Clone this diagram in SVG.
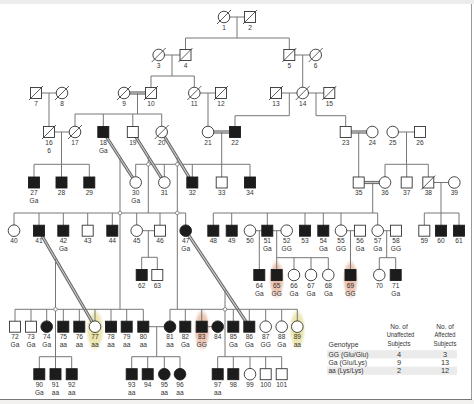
<svg xmlns="http://www.w3.org/2000/svg" width="474" height="404" viewBox="0 0 474 404">
<style>
.s{fill:#fff;stroke:#333;stroke-width:0.9}
.f{fill:#1c1c1c;stroke:#1c1c1c;stroke-width:0.9}
.d{stroke:#333;stroke-width:0.8}
.l{font-family:"Liberation Sans Narrow","Liberation Sans",Arial,sans-serif;font-size:6.6px;fill:#333;text-anchor:middle}
.c{fill:none;stroke:#777;stroke-width:1}
.dbo{fill:none;stroke:#666;stroke-width:3.2}
.dbi{fill:none;stroke:#c8c8c8;stroke-width:1.2}
.hop{fill:#fff;stroke:#777;stroke-width:0.8}
.lg{font-family:"Liberation Sans",Arial,sans-serif;font-size:7.4px;fill:#333}
.lc{text-anchor:middle}
</style>
<defs>
<radialGradient id="gp"><stop offset="0" stop-color="#e4ad95" stop-opacity="0.95"/><stop offset="0.7" stop-color="#e9bfaa" stop-opacity="0.8"/><stop offset="1" stop-color="#f0d5c8" stop-opacity="0"/></radialGradient>
<radialGradient id="gy"><stop offset="0" stop-color="#e4dc8e" stop-opacity="0.95"/><stop offset="0.7" stop-color="#e9e3a6" stop-opacity="0.8"/><stop offset="1" stop-color="#f2eec8" stop-opacity="0"/></radialGradient>
</defs>
<rect x="0" y="0" width="474" height="404" fill="#fff"/>
<rect x="0" y="0" width="474" height="4" fill="#ececec"/>
<rect x="0" y="400" width="474" height="4" fill="#f3f1ef"/>
<line x1="471.5" y1="4" x2="471.5" y2="400" stroke="#999" stroke-width="1"/>
<line x1="0" y1="399.5" x2="472" y2="399.5" stroke="#777" stroke-width="1"/>

<g id="highlights">
<ellipse cx="276.7" cy="279.5" rx="8" ry="20.5" fill="url(#gp)"/>
<ellipse cx="350.5" cy="279.5" rx="8.2" ry="20.5" fill="url(#gp)"/>
<ellipse cx="95" cy="330" rx="9.5" ry="22" fill="url(#gy)"/>
<ellipse cx="202" cy="330" rx="8.5" ry="22" fill="url(#gp)"/>
<ellipse cx="297.3" cy="329.5" rx="8.5" ry="21.5" fill="url(#gy)"/>
</g>

<g id="connectors">
<path class="c" d="M224,17H250M237,17V38M185.5,38H289.3M185.5,38V55M289.3,38V55"/>
<path class="c" d="M158.7,55H185.5M172,55V76M151,76H194.3M151,76V93M194.3,76V93"/>
<path class="c" d="M289.3,55H315.7M302.7,55V93"/>
<path class="c" d="M36,93H62M49,93V132"/>
<path class="dbo" d="M124,93H151"/><path class="dbi" d="M124,93H151"/>
<path class="c" d="M137.5,93V114M75,114H161.7M75,114V132M103.3,114V132M132.8,114V132M161.7,114V132"/>
<path class="c" d="M194.3,93H221M208,93V132"/>
<path class="c" d="M276,93H329.3M289.3,93V115.7H235V132M316,93V115.7H345.7V132"/>
<path class="c" d="M49,132H75M61.5,132V164.3M34,164.3H89.3M34,164.3V182.5M61.5,164.3V182.5M89.3,164.3V182.5"/>
<path class="dbo" d="M208,132H235"/><path class="dbi" d="M208,132H235"/>
<path class="c" d="M221.7,132V182.5M135.7,164.3H250M135.7,164.3V182.5M164.3,164.3V182.5M192.3,164.3V182.5M250,164.3V182.5"/>
<path class="dbo" d="M345.7,132H372.3"/><path class="dbi" d="M345.7,132H372.3"/>
<path class="c" d="M358.7,132V182.5"/>
<path class="c" d="M392.7,132H420M406.5,132V164.3M385,164.3H428.3M385,164.3V182.5M406.7,164.3V182.5M428.3,164.3V182.5"/>
<path class="dbo" d="M358.7,182.5H385"/><path class="dbi" d="M358.7,182.5H385"/>
<path class="c" d="M372.7,182.5V213M213.3,213H377.7M213.3,213V230.7M231.7,213V230.7M267.3,213V230.7M305,213V230.7M323.3,213V230.7M341,213V230.7M377.7,213V230.7"/>
<path class="c" d="M428.3,182.5H454.3M441,182.5V213M424.3,213H459M424.3,213V230.7M441,213V230.7M459,213V230.7"/>
<path class="dbo" d="M103.3,132L135.7,182.5M132.8,132L164.3,182.5M161.7,132L192.3,182.5M39,230.7L95,326.7M185.7,230.7L249.3,326.7"/>
<path class="dbi" d="M103.3,132L135.7,182.5M132.8,132L164.3,182.5M161.7,132L192.3,182.5M39,230.7L95,326.7M185.7,230.7L249.3,326.7"/>
<path class="c" d="M120,158V309.3M148.3,157V213M177.3,158V309.3"/>
<path class="c" d="M14,213H185.7M14,213V230.7M39,213V230.7M63.3,213V230.7M87.7,213V230.7M112.3,213V230.7M136.7,213V230.7M160,213V230.7M185.7,213V230.7"/>
<path class="c" d="M136.7,230.7H160M148.3,230.7V257.3M141.7,257.3H157.3M141.7,257.3V275M157.3,257.3V275"/>
<path class="c" d="M250,230.7H286.7M259.3,230.7V275M276.7,230.7V275M276.7,257.7H328.3M294,257.7V275M311,257.7V275M328.3,257.7V275"/>
<path class="c" d="M341,230.7H360M350.5,230.7V275"/>
<path class="c" d="M377.7,230.7H396M386.7,230.7V257.7M379.3,257.7H395.7M379.3,257.7V275M395.7,257.7V275"/>
<path class="c" d="M15,309.3H143.3M15,309.3V326.7M31,309.3V326.7M46.7,309.3V326.7M63.3,309.3V326.7M79.3,309.3V326.7M95,309.3V326.7M111,309.3V326.7M126.7,309.3V326.7M143.3,309.3V326.7"/>
<path class="c" d="M55.5,259V374.2M39.3,356.7H71.7M39.3,356.7V374.2M71.7,356.7V374.2"/>
<path class="c" d="M143.3,326.7H170M156.7,326.7V356.7M131.7,356.7H180M131.7,356.7V374.2M147.7,356.7V374.2M164.3,356.7V374.2M180,356.7V374.2"/>
<path class="c" d="M170,309.3H297.3M170,309.3V326.7M185.3,309.3V326.7M201.7,309.3V326.7M233.3,309.3V326.7M249.3,309.3V326.7M265.7,309.3V326.7M281.7,309.3V326.7M297.3,309.3V326.7M201.7,326.7H217.7"/>
<path class="c" d="M225,290V356.7M217.7,356.7H281.7M217.7,356.7V374.2M233.3,356.7V374.2M250,356.7V374.2M265.7,356.7V374.2M281.7,356.7V374.2"/>
<circle class="hop" cx="148.3" cy="164.3" r="1.8"/>
<circle class="hop" cx="177.3" cy="164.3" r="1.8"/>
<circle class="hop" cx="120" cy="213" r="1.8"/>
<circle class="hop" cx="177.3" cy="213" r="1.8"/>
<circle class="hop" cx="55.5" cy="309.3" r="1.8"/>
<circle class="hop" cx="225" cy="309.3" r="1.8"/>
</g>

<g id="n1"><circle class="s" cx="224" cy="17" r="5.8"/><line class="d" x1="217" y1="24" x2="231" y2="10"/><text class="l" x="224" y="29.5">1</text></g>
<g id="n2"><rect class="s" x="244.5" y="11.5" width="11" height="11"/><line class="d" x1="243" y1="24" x2="257" y2="10"/><text class="l" x="250" y="29.5">2</text></g>
<g id="n3"><circle class="s" cx="158.7" cy="55" r="5.8"/><line class="d" x1="151.7" y1="62" x2="165.7" y2="48"/><text class="l" x="158.7" y="67.5">3</text></g>
<g id="n4"><rect class="s" x="180" y="49.5" width="11" height="11"/><line class="d" x1="178.5" y1="62" x2="192.5" y2="48"/><text class="l" x="185.5" y="67.5">4</text></g>
<g id="n5"><rect class="s" x="283.8" y="49.5" width="11" height="11"/><line class="d" x1="282.3" y1="62" x2="296.3" y2="48"/><text class="l" x="289.3" y="67.5">5</text></g>
<g id="n6"><circle class="s" cx="315.7" cy="55" r="5.8"/><line class="d" x1="308.7" y1="62" x2="322.7" y2="48"/><text class="l" x="315.7" y="67.5">6</text></g>
<g id="n7"><rect class="s" x="30.5" y="87.5" width="11" height="11"/><line class="d" x1="29" y1="100" x2="43" y2="86"/><text class="l" x="36" y="105.5">7</text></g>
<g id="n8"><circle class="s" cx="62" cy="93" r="5.8"/><line class="d" x1="55" y1="100" x2="69" y2="86"/><text class="l" x="62" y="105.5">8</text></g>
<g id="n9"><circle class="s" cx="124" cy="93" r="5.8"/><line class="d" x1="117" y1="100" x2="131" y2="86"/><text class="l" x="124" y="105.5">9</text></g>
<g id="n10"><rect class="s" x="145.5" y="87.5" width="11" height="11"/><line class="d" x1="144" y1="100" x2="158" y2="86"/><text class="l" x="151" y="105.5">10</text></g>
<g id="n11"><circle class="s" cx="194.3" cy="93" r="5.8"/><line class="d" x1="187.3" y1="100" x2="201.3" y2="86"/><text class="l" x="194.3" y="105.5">11</text></g>
<g id="n12"><rect class="s" x="215.5" y="87.5" width="11" height="11"/><line class="d" x1="214" y1="100" x2="228" y2="86"/><text class="l" x="221" y="105.5">12</text></g>
<g id="n13"><rect class="s" x="270.5" y="87.5" width="11" height="11"/><line class="d" x1="269" y1="100" x2="283" y2="86"/><text class="l" x="276" y="105.5">13</text></g>
<g id="n14"><circle class="s" cx="302.7" cy="93" r="5.8"/><line class="d" x1="295.7" y1="100" x2="309.7" y2="86"/><text class="l" x="302.7" y="105.5">14</text></g>
<g id="n15"><rect class="s" x="323.8" y="87.5" width="11" height="11"/><line class="d" x1="322.3" y1="100" x2="336.3" y2="86"/><text class="l" x="329.3" y="105.5">15</text></g>

<g id="n16"><rect class="s" x="43.5" y="126.5" width="11" height="11"/><line class="d" x1="42" y1="139" x2="56" y2="125"/><text class="l" x="49" y="144.5">16</text><text class="l" x="49" y="152.5">6</text></g>
<g id="n17"><circle class="s" cx="75" cy="132" r="5.8"/><line class="d" x1="68" y1="139" x2="82" y2="125"/><text class="l" x="75" y="144.5">17</text></g>
<g id="n18"><rect class="f" x="97.8" y="126.5" width="11" height="11"/><text class="l" x="103.3" y="144.5">18</text><text class="l" x="103.3" y="152.5">Ga</text></g>
<g id="n19"><rect class="s" x="127.3" y="126.5" width="11" height="11"/><text class="l" x="132.8" y="144.5">19</text></g>
<g id="n20"><circle class="s" cx="161.7" cy="132" r="5.8"/><line class="d" x1="154.7" y1="139" x2="168.7" y2="125"/><text class="l" x="161.7" y="144.5">20</text></g>
<g id="n21"><circle class="s" cx="208" cy="132" r="5.8"/><text class="l" x="208" y="144.5">21</text></g>
<g id="n22"><rect class="f" x="229.5" y="126.5" width="11" height="11"/><text class="l" x="235" y="144.5">22</text></g>
<g id="n23"><rect class="s" x="340.2" y="126.5" width="11" height="11"/><text class="l" x="345.7" y="144.5">23</text></g>
<g id="n24"><circle class="s" cx="372.3" cy="132" r="5.8"/><text class="l" x="372.3" y="144.5">24</text></g>
<g id="n25"><circle class="s" cx="392.7" cy="132" r="5.8"/><text class="l" x="392.7" y="144.5">25</text></g>
<g id="n26"><rect class="s" x="414.5" y="126.5" width="11" height="11"/><text class="l" x="420" y="144.5">26</text></g>

<g id="n27"><rect class="f" x="28.5" y="177" width="11" height="11"/><text class="l" x="34" y="195">27</text><text class="l" x="34" y="203">Ga</text></g>
<g id="n28"><rect class="f" x="56" y="177" width="11" height="11"/><text class="l" x="61.5" y="195">28</text></g>
<g id="n29"><rect class="f" x="83.8" y="177" width="11" height="11"/><text class="l" x="89.3" y="195">29</text></g>
<g id="n30"><circle class="s" cx="135.7" cy="182.5" r="5.8"/><text class="l" x="135.7" y="195">30</text><text class="l" x="135.7" y="203">Ga</text></g>
<g id="n31"><circle class="s" cx="164.3" cy="182.5" r="5.8"/><text class="l" x="164.3" y="195">31</text></g>
<g id="n32"><rect class="f" x="186.8" y="177" width="11" height="11"/><text class="l" x="192.3" y="195">32</text></g>
<g id="n33"><rect class="s" x="216.2" y="177" width="11" height="11"/><text class="l" x="221.7" y="195">33</text></g>
<g id="n34"><rect class="f" x="244.5" y="177" width="11" height="11"/><text class="l" x="250" y="195">34</text></g>
<g id="n35"><rect class="s" x="353.2" y="177" width="11" height="11"/><text class="l" x="358.7" y="195">35</text></g>
<g id="n36"><circle class="s" cx="385" cy="182.5" r="5.8"/><text class="l" x="385" y="195">36</text></g>
<g id="n37"><rect class="s" x="401.2" y="177" width="11" height="11"/><text class="l" x="406.7" y="195">37</text></g>
<g id="n38"><rect class="s" x="422.8" y="177" width="11" height="11"/><line class="d" x1="421.3" y1="189.5" x2="435.3" y2="175.5"/><text class="l" x="428.3" y="195">38</text></g>
<g id="n39"><circle class="s" cx="454.3" cy="182.5" r="5.8"/><text class="l" x="454.3" y="195">39</text></g>

<g id="n40"><circle class="s" cx="14" cy="230.7" r="5.8"/><text class="l" x="14" y="243.2">40</text></g>
<g id="n41"><rect class="f" x="33.5" y="225.2" width="11" height="11"/><text class="l" x="39" y="243.2">41</text></g>
<g id="n42"><rect class="f" x="57.8" y="225.2" width="11" height="11"/><text class="l" x="63.3" y="243.2">42</text><text class="l" x="63.3" y="251.2">Ga</text></g>
<g id="n43"><rect class="s" x="82.2" y="225.2" width="11" height="11"/><text class="l" x="87.7" y="243.2">43</text></g>
<g id="n44"><rect class="f" x="106.8" y="225.2" width="11" height="11"/><text class="l" x="112.3" y="243.2">44</text></g>
<g id="n45"><circle class="s" cx="136.7" cy="230.7" r="5.8"/><text class="l" x="136.7" y="243.2">45</text></g>
<g id="n46"><rect class="s" x="154.5" y="225.2" width="11" height="11"/><text class="l" x="160" y="243.2">46</text></g>
<g id="n47"><circle class="f" cx="185.7" cy="230.7" r="5.8"/><text class="l" x="185.7" y="243.2">47</text><text class="l" x="185.7" y="251.2">Ga</text></g>
<g id="n48"><rect class="f" x="207.8" y="225.2" width="11" height="11"/><text class="l" x="213.3" y="243.2">48</text></g>
<g id="n49"><rect class="f" x="226.2" y="225.2" width="11" height="11"/><text class="l" x="231.7" y="243.2">49</text></g>
<g id="n50"><circle class="s" cx="250" cy="230.7" r="5.8"/><text class="l" x="250" y="243.2">50</text></g>
<g id="n51"><rect class="f" x="261.8" y="225.2" width="11" height="11"/><text class="l" x="267.3" y="243.2">51</text><text class="l" x="267.3" y="251.2">Ga</text></g>
<g id="n52"><circle class="s" cx="286.7" cy="230.7" r="5.8"/><text class="l" x="286.7" y="243.2">52</text><text class="l" x="286.7" y="251.2">GG</text></g>
<g id="n53"><rect class="f" x="299.5" y="225.2" width="11" height="11"/><text class="l" x="305" y="243.2">53</text></g>
<g id="n54"><rect class="f" x="317.8" y="225.2" width="11" height="11"/><text class="l" x="323.3" y="243.2">54</text><text class="l" x="323.3" y="251.2">Ga</text></g>
<g id="n55"><circle class="s" cx="341" cy="230.7" r="5.8"/><text class="l" x="341" y="243.2">55</text><text class="l" x="341" y="251.2">GG</text></g>
<g id="n56"><rect class="s" x="354.5" y="225.2" width="11" height="11"/><text class="l" x="360" y="243.2">56</text><text class="l" x="360" y="251.2">Ga</text></g>
<g id="n57"><circle class="s" cx="377.7" cy="230.7" r="5.8"/><text class="l" x="377.7" y="243.2">57</text><text class="l" x="377.7" y="251.2">Ga</text></g>
<g id="n58"><rect class="s" x="390.5" y="225.2" width="11" height="11"/><text class="l" x="396" y="243.2">58</text><text class="l" x="396" y="251.2">GG</text></g>
<g id="n59"><rect class="s" x="418.8" y="225.2" width="11" height="11"/><text class="l" x="424.3" y="243.2">59</text></g>
<g id="n60"><rect class="f" x="435.5" y="225.2" width="11" height="11"/><text class="l" x="441" y="243.2">60</text></g>
<g id="n61"><rect class="f" x="453.5" y="225.2" width="11" height="11"/><text class="l" x="459" y="243.2">61</text></g>

<g id="n62"><rect class="f" x="136.2" y="269.5" width="11" height="11"/><text class="l" x="141.7" y="287.5">62</text></g>
<g id="n63"><rect class="s" x="151.8" y="269.5" width="11" height="11"/><text class="l" x="157.3" y="287.5">63</text></g>
<g id="n64"><rect class="f" x="253.8" y="269.5" width="11" height="11"/><text class="l" x="259.3" y="287.5">64</text><text class="l" x="259.3" y="295.5">Ga</text></g>
<g id="n65"><rect class="f" x="271.2" y="269.5" width="11" height="11"/><text class="l" x="276.7" y="287.5">65</text><text class="l" x="276.7" y="295.5">GG</text></g>
<g id="n66"><circle class="s" cx="294" cy="275" r="5.8"/><text class="l" x="294" y="287.5">66</text><text class="l" x="294" y="295.5">Ga</text></g>
<g id="n67"><circle class="s" cx="311" cy="275" r="5.8"/><text class="l" x="311" y="287.5">67</text><text class="l" x="311" y="295.5">Ga</text></g>
<g id="n68"><circle class="s" cx="328.3" cy="275" r="5.8"/><text class="l" x="328.3" y="287.5">68</text><text class="l" x="328.3" y="295.5">Ga</text></g>
<g id="n69"><rect class="f" x="345" y="269.5" width="11" height="11"/><text class="l" x="350.5" y="287.5">69</text><text class="l" x="350.5" y="295.5">GG</text></g>
<g id="n70"><circle class="s" cx="379.3" cy="275" r="5.8"/><text class="l" x="379.3" y="287.5">70</text></g>
<g id="n71"><rect class="f" x="390.2" y="269.5" width="11" height="11"/><text class="l" x="395.7" y="287.5">71</text><text class="l" x="395.7" y="295.5">Ga</text></g>

<g id="n72"><rect class="s" x="9.5" y="321.2" width="11" height="11"/><text class="l" x="15" y="339.2">72</text><text class="l" x="15" y="347.2">Ga</text></g>
<g id="n73"><rect class="s" x="25.5" y="321.2" width="11" height="11"/><text class="l" x="31" y="339.2">73</text><text class="l" x="31" y="347.2">Ga</text></g>
<g id="n74"><circle class="f" cx="46.7" cy="326.7" r="5.8"/><text class="l" x="46.7" y="339.2">74</text><text class="l" x="46.7" y="347.2">Ga</text></g>
<g id="n75"><rect class="f" x="57.8" y="321.2" width="11" height="11"/><text class="l" x="63.3" y="339.2">75</text><text class="l" x="63.3" y="347.2">aa</text></g>
<g id="n76"><rect class="f" x="73.8" y="321.2" width="11" height="11"/><text class="l" x="79.3" y="339.2">76</text><text class="l" x="79.3" y="347.2">aa</text></g>
<g id="n77"><circle class="s" cx="95" cy="326.7" r="5.8"/><text class="l" x="95" y="339.2">77</text><text class="l" x="95" y="347.2">aa</text></g>
<g id="n78"><rect class="f" x="105.5" y="321.2" width="11" height="11"/><text class="l" x="111" y="339.2">78</text><text class="l" x="111" y="347.2">aa</text></g>
<g id="n79"><rect class="f" x="121.2" y="321.2" width="11" height="11"/><text class="l" x="126.7" y="339.2">79</text><text class="l" x="126.7" y="347.2">aa</text></g>
<g id="n80"><rect class="f" x="137.8" y="321.2" width="11" height="11"/><text class="l" x="143.3" y="339.2">80</text><text class="l" x="143.3" y="347.2">aa</text></g>
<g id="n81"><circle class="f" cx="170" cy="326.7" r="5.8"/><text class="l" x="170" y="339.2">81</text><text class="l" x="170" y="347.2">aa</text></g>
<g id="n82"><rect class="f" x="179.8" y="321.2" width="11" height="11"/><text class="l" x="185.3" y="339.2">82</text><text class="l" x="185.3" y="347.2">Ga</text></g>
<g id="n83"><rect class="f" x="196.2" y="321.2" width="11" height="11"/><text class="l" x="201.7" y="339.2">83</text><text class="l" x="201.7" y="347.2">GG</text></g>
<g id="n84"><circle class="f" cx="217.7" cy="326.7" r="5.8"/><text class="l" x="217.7" y="339.2">84</text></g>
<g id="n85"><rect class="f" x="227.8" y="321.2" width="11" height="11"/><text class="l" x="233.3" y="339.2">85</text><text class="l" x="233.3" y="347.2">Ga</text></g>
<g id="n86"><rect class="f" x="243.8" y="321.2" width="11" height="11"/><text class="l" x="249.3" y="339.2">86</text><text class="l" x="249.3" y="347.2">Ga</text></g>
<g id="n87"><circle class="s" cx="265.7" cy="326.7" r="5.8"/><text class="l" x="265.7" y="339.2">87</text><text class="l" x="265.7" y="347.2">GG</text></g>
<g id="n88"><circle class="s" cx="281.7" cy="326.7" r="5.8"/><text class="l" x="281.7" y="339.2">88</text><text class="l" x="281.7" y="347.2">Ga</text></g>
<g id="n89"><circle class="s" cx="297.3" cy="326.7" r="5.8"/><text class="l" x="297.3" y="339.2">89</text><text class="l" x="297.3" y="347.2">aa</text></g>

<g id="n90"><rect class="f" x="33.8" y="368.7" width="11" height="11"/><text class="l" x="39.3" y="386.7">90</text><text class="l" x="39.3" y="394.7">Ga</text></g>
<g id="n91"><rect class="f" x="50" y="368.7" width="11" height="11"/><text class="l" x="55.5" y="386.7">91</text><text class="l" x="55.5" y="394.7">aa</text></g>
<g id="n92"><rect class="f" x="66.2" y="368.7" width="11" height="11"/><text class="l" x="71.7" y="386.7">92</text><text class="l" x="71.7" y="394.7">aa</text></g>
<g id="n93"><rect class="f" x="126.2" y="368.7" width="11" height="11"/><text class="l" x="131.7" y="386.7">93</text><text class="l" x="131.7" y="394.7">aa</text></g>
<g id="n94"><rect class="f" x="142.2" y="368.7" width="11" height="11"/><text class="l" x="147.7" y="386.7">94</text></g>
<g id="n95"><circle class="f" cx="164.3" cy="374.2" r="5.8"/><text class="l" x="164.3" y="386.7">95</text><text class="l" x="164.3" y="394.7">aa</text></g>
<g id="n96"><circle class="f" cx="180" cy="374.2" r="5.8"/><text class="l" x="180" y="386.7">96</text><text class="l" x="180" y="394.7">aa</text></g>
<g id="n97"><rect class="f" x="212.2" y="368.7" width="11" height="11"/><text class="l" x="217.7" y="386.7">97</text><text class="l" x="217.7" y="394.7">aa</text></g>
<g id="n98"><rect class="f" x="227.8" y="368.7" width="11" height="11"/><text class="l" x="233.3" y="386.7">98</text></g>
<g id="n99"><circle class="s" cx="250" cy="374.2" r="5.8"/><text class="l" x="250" y="386.7">99</text></g>
<g id="n100"><rect class="s" x="260.2" y="368.7" width="11" height="11"/><text class="l" x="265.7" y="386.7">100</text></g>
<g id="n101"><rect class="s" x="276.2" y="368.7" width="11" height="11"/><text class="l" x="281.7" y="386.7">101</text></g>

<g id="legend">
<rect x="327" y="350.2" width="130" height="8.2" fill="#ebebeb"/>
<rect x="327" y="366.6" width="130" height="8.2" fill="#ebebeb"/>
<text class="lg" x="328.5" y="346.5" textLength="30" lengthAdjust="spacingAndGlyphs">Genotype</text>
<text class="lg lc" x="399" y="328.8" textLength="17.5" lengthAdjust="spacingAndGlyphs">No. of</text>
<text class="lg lc" x="400.5" y="337.2" textLength="27.5" lengthAdjust="spacingAndGlyphs">Unaffected</text>
<text class="lg lc" x="399" y="345.8" textLength="23" lengthAdjust="spacingAndGlyphs">Subjects</text>
<text class="lg lc" x="445" y="328.8" textLength="17.5" lengthAdjust="spacingAndGlyphs">No. of</text>
<text class="lg lc" x="445" y="337.2" textLength="21" lengthAdjust="spacingAndGlyphs">Affected</text>
<text class="lg lc" x="445" y="345.8" textLength="23" lengthAdjust="spacingAndGlyphs">Subjects</text>
<text class="lg" x="328.5" y="356.8" textLength="40" lengthAdjust="spacingAndGlyphs">GG (Glu/Glu)</text>
<text class="lg lc" x="399" y="356.8">4</text>
<text class="lg lc" x="445" y="356.8">3</text>
<text class="lg" x="328.5" y="365" textLength="38.5" lengthAdjust="spacingAndGlyphs">Ga (Glu/Lys)</text>
<text class="lg lc" x="399" y="365">9</text>
<text class="lg lc" x="445" y="365">13</text>
<text class="lg" x="328.5" y="373.2" textLength="35" lengthAdjust="spacingAndGlyphs">aa (Lys/Lys)</text>
<text class="lg lc" x="399" y="373.2">2</text>
<text class="lg lc" x="445" y="373.2">12</text>
</g>
</svg>
